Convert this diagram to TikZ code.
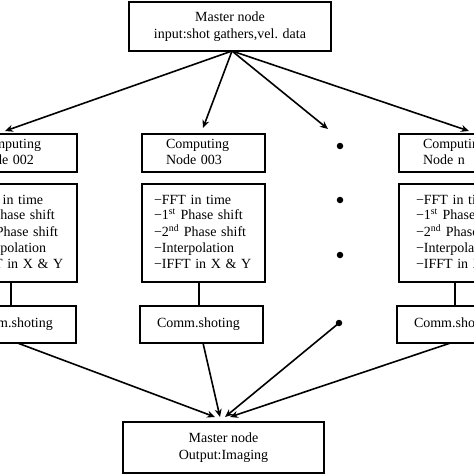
\documentclass[tikz,border=0pt]{standalone}
\usepackage{fontspec}
\setmainfont{Liberation Serif}
\usetikzlibrary{arrows.meta,calc}
\begin{document}
\begin{tikzpicture}[x=1pt,y=-1pt,
  box/.style={draw, line width=2pt, rectangle, anchor=north west, outer sep=0pt, inner ysep=0pt, font=\fontsize{14}{16.5}\selectfont},
  master/.style={box, align=center},
  compbox/.style={box, minimum width=123pt, minimum height=38pt, text width=75pt, inner xsep=24pt, align=left},
  procbox/.style={box, minimum width=123pt, minimum height=98pt, text width=99pt, inner xsep=12pt, align=left, font=\fontsize{14}{15.8}\selectfont},
  commbox/.style={box, minimum width=123pt, minimum height=37pt, text width=89pt, inner xsep=17pt, align=left},
  dot/.style={circle, fill=black, minimum size=6.5pt, inner sep=0pt},
  arr/.style={line width=1.6pt, -{Stealth[length=8pt,width=7pt]}},
  link/.style={line width=2pt}
]
\useasboundingbox (0,0) rectangle (474,474);
\clip (0,0) rectangle (474,474);
\fill[white] (0,0) rectangle (474,474);

\newcommand\proctext{\begin{tabular}{@{}l@{}}−FFT in time\\−1\textsuperscript{st} Phase shift\\−2\textsuperscript{nd} Phase shift\\−Interpolation\\−IFFT in X \& Y\end{tabular}}
\newcommand\onel[1]{\begin{tabular}{@{}l@{}}#1\end{tabular}}

% master nodes
\node[master, minimum width=202pt, minimum height=49pt] (m1) at (129,2) {Master node\\input:shot gathers,vel. data};
\node[master, minimum width=201pt, minimum height=51pt] (m2) at (123,422) {Master node\\Output:Imaging};

% columns
\begin{scope}[xshift=-188pt]
  \node[compbox] (c2) at (142,134) {\onel{Computing\\Node 002}};
  \node[procbox] (p2) at (142,184) {\proctext};
  \node[commbox] (s2) at (141,306) {\onel{Comm.shoting}};
\end{scope}
\node[compbox] (c3) at (142,134) {\onel{Computing\\Node 003}};
\node[procbox] (p3) at (142,184) {\proctext};
\node[commbox] (s3) at (140,306) {\onel{Comm.shoting}};
\begin{scope}[xshift=257pt]
  \node[compbox] (cn) at (142,134) {\onel{Computing\\Node n}};
  \node[procbox, inner xsep=17pt, text width=89pt] (pn) at (142,184) {\proctext};
  \node[commbox] (sn) at (140,306) {\onel{Comm.shoting}};
\end{scope}

% dots
\node[dot] (d1) at (340,146) {};
\node[dot] (d2) at (340,200) {};
\node[dot] (d3) at (340,255) {};
\node[dot] (d4) at (339,323) {};

% arrow tips
\coordinate (t2) at (5,131);
\coordinate (t3) at (203,128);
\coordinate (td) at (328,129);
\coordinate (tn) at (469,131);
\coordinate (b1) at (215,417);
\coordinate (b2) at (220,417);
\coordinate (b3) at (225,417);
\coordinate (b4) at (230,417);

\coordinate (mo) at ($(m1.south)+(2,0)$);
\draw[arr] (mo) -- (t2);
\draw[arr] (mo) -- (t3);
\draw[arr] (mo) -- (td);
\draw[arr] (mo) -- (tn);

% vertical links
\draw[link] (p2.south) ++(-5,0) coordinate (v2) -- (v2 |- s2.north);
\draw[link] (p3.south) ++(-5,0) coordinate (v3) -- (v3 |- s3.north);
\draw[link] (pn.south) ++(-6,0) coordinate (vn) -- (vn |- sn.north);

% to bottom master
\draw[arr] ($(s2.south)+(3,0)$) -- (b1);
\draw[arr] ($(s3.south)+(1.5,0)$) -- (b2);
\draw[arr] (d4.center) -- (b3);
\draw[arr] ($(sn.south)+(-8,0)$) -- (b4);
\end{tikzpicture}
\end{document}
